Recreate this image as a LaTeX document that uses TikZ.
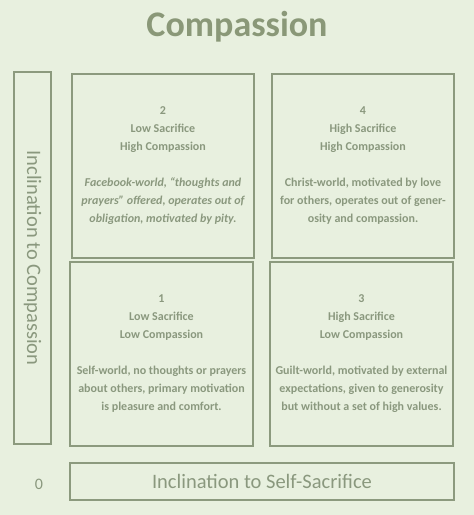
\documentclass[tikz,border=0pt]{standalone}
\usepackage{fontspec}
\setmainfont{Carlito}
\definecolor{bg}{HTML}{E8F0DF}
\definecolor{frame}{HTML}{8C9A7E}
\definecolor{ink}{HTML}{8A987E}
\definecolor{titleink}{HTML}{8A9878}
\tikzset{
  quad/.style={draw=frame, line width=1.6pt, text=ink, align=center, inner sep=0pt,
    font=\fontsize{12}{18}\selectfont\bfseries},
  axisbox/.style={draw=frame, line width=1.6pt, text=ink, inner sep=0pt,
    font=\fontsize{20.5}{24}\selectfont},
}
\begin{document}
\begin{tikzpicture}[x=1pt,y=-1pt]
\useasboundingbox (0,0) rectangle (474,515);
\fill[bg] (0,0) rectangle (474,515);
\node[text=titleink, font=\fontsize{36}{40}\selectfont\bfseries] (title) at (237,27) {Compassion};
% quadrants
\node[quad, minimum width=182pt, minimum height=184pt] (q2) at (163,166)
  {2\\Low Sacrifice\\High Compassion\\[18pt]\itshape Facebook-world, “thoughts and\\\itshape prayers” offered, operates out of\\\itshape obligation, motivated by pity.};
\node[quad, minimum width=182pt, minimum height=184pt] (q4) at (363,166)
  {4\\High Sacrifice\\High Compassion\\[18pt]Christ-world, motivated by love\\for others, operates out of gener-\\osity and compassion.};
\node[quad, minimum width=183pt, minimum height=184pt] (q1) at (161.5,354)
  {1\\Low Sacrifice\\Low Compassion\\[18pt]Self-world, no thoughts or prayers\\about others, primary motivation\\is pleasure and comfort.};
\node[quad, minimum width=183pt, minimum height=184pt] (q3) at (361.5,354)
  {3\\High Sacrifice\\Low Compassion\\[18pt]Guilt-world, motivated by external\\expectations, given to generosity\\but without a set of high values.};
% axes
\node[axisbox, minimum width=37pt, minimum height=372pt] (yaxis) at (32.5,258) {};
\node[text=ink, font=\fontsize{20.5}{24}\selectfont, rotate=-90] (ylabel) at (yaxis.center) {Inclination to Compassion};
\node[axisbox, minimum width=384pt, minimum height=37pt] (xaxis) at (262,481.5) {Inclination to Self-Sacrifice};
\node[text=ink, font=\fontsize{16}{18}\selectfont] (zero) at (39,484) {0};
\end{tikzpicture}
\end{document}
